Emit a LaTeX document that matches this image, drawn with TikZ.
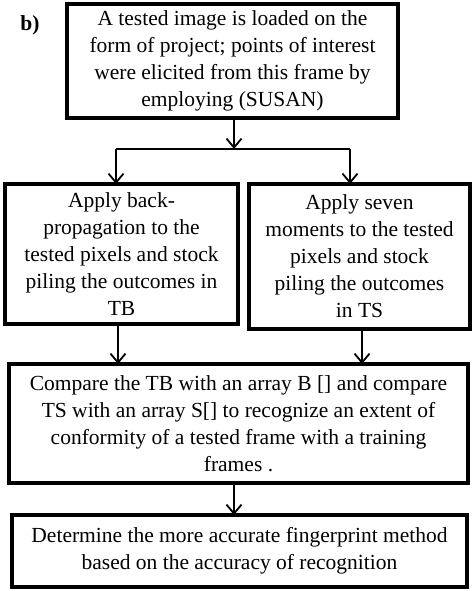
\documentclass[tikz,border=0pt]{standalone}
\usepackage{fontspec}
\setmainfont{Liberation Serif}
\usepackage{tikz}
\usetikzlibrary{positioning,calc,arrows.meta}
\tikzset{%
  stepBox/.style={%
    rectangle,
    draw=black,
    line width=4pt,
    fill=white,
    inner sep=1pt,
    outer sep=0pt,
    align=center,
    font=\fontsize{21.5}{27}\selectfont
  },
  arrowLine/.style={%
    -{Straight Barb[length=9pt,width=15pt]},
    line width=1.8pt,
    color=black
  },
  plainLine/.style={%
    line width=1.8pt,
    color=black
  }
}

\begin{document}
\begin{tikzpicture}
            \useasboundingbox (0,0) rectangle (474pt,-591pt);

            % Label
            \node[font=\fontsize{21.5}{27}\selectfont\bfseries] (figLabel) at (30pt,-25pt) {b)};

            % Loading step
            \node[stepBox, minimum width=331pt, minimum height=114pt] (loadImage) at (232.5pt,-61pt) {%
                A tested image is loaded on the\\
                form of project; points of interest\\
                were elicited from this frame by\\
                employing (SUSAN)
            };

            % Two feature steps
            \node[stepBox, minimum width=233pt, minimum height=140pt, below=66pt of loadImage, xshift=-111pt] (backProp) {%
                Apply back-\\
                propagation to the\\
                tested pixels and stock\\
                piling the outcomes in\\
                TB
            };
            \node[stepBox, minimum width=221pt, minimum height=145pt, right=11pt of backProp, yshift=-2.5pt] (sevenMoments) {%
                Apply seven\\
                moments to the tested\\
                pixels and stock\\
                piling the outcomes\\
                in TS
            };

            % Comparison and decision
            \node[stepBox, minimum width=459pt, minimum height=119pt, below=40pt of backProp, xshift=117pt] (compareBox) {%
                Compare the TB with an array B [] and compare\\
                TS with an array S[] to recognize an extent of\\
                conformity of a tested frame with a training\\
                frames .
            };
            \node[stepBox, minimum width=455pt, minimum height=72pt, below=32pt of compareBox, xshift=1pt] (decideBox) {%
                Determine the more accurate fingerprint method\\
                based on the accuracy of recognition
            };

            % Connectors
            \coordinate (split) at ($(loadImage.south)+(1.5pt,-31pt)$);
            \coordinate (splitLeft) at ($(split)+(-118pt,0)$);
            \coordinate (splitRight) at ($(split)+(116pt,0)$);

            \draw[arrowLine] ([xshift=1.5pt]loadImage.south) -- (split);
            \draw[plainLine] (splitLeft) -- (splitRight);
            \draw[arrowLine] (splitLeft) -- (splitLeft |- backProp.north);
            \draw[arrowLine] (splitRight) -- (splitRight |- sevenMoments.north);

            \draw[arrowLine] ([xshift=-3.5pt]backProp.south) -- ([xshift=-3.5pt]backProp.south |- compareBox.north);
            \draw[arrowLine] ([xshift=2.5pt]sevenMoments.south) -- ([xshift=2.5pt]sevenMoments.south |- compareBox.north);
            \draw[arrowLine] ([xshift=-4.5pt]compareBox.south) -- ([xshift=-4.5pt]compareBox.south |- decideBox.north);
\end{tikzpicture}
\end{document}
